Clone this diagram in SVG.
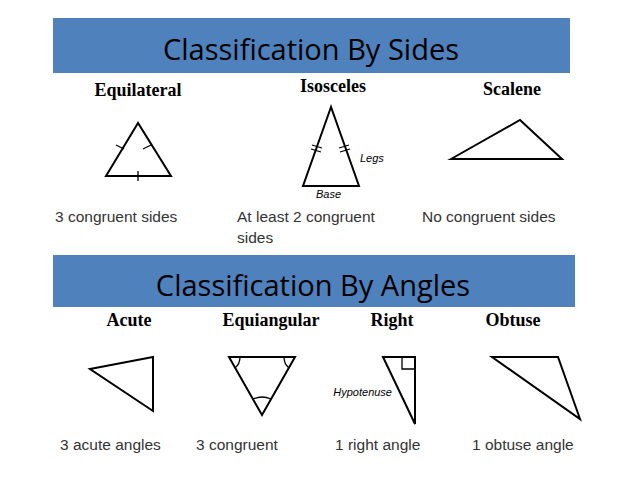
<svg xmlns="http://www.w3.org/2000/svg" width="638" height="479" viewBox="0 0 638 479">
<style>
.bar{fill:#4f81bd}
.title{font-family:"Open Sans","Liberation Sans",sans-serif;font-size:29px;fill:#000;text-anchor:middle}
.hd{font-family:"Liberation Serif",serif;font-weight:bold;font-size:18px;text-anchor:middle}
.cap{font-family:"Liberation Sans",sans-serif;font-size:15.5px;fill:#333}
.lab{font-family:"Liberation Sans",sans-serif;font-size:11px;font-style:italic}
.tri{fill:none;stroke:#000;stroke-width:2;stroke-linejoin:miter}
.thin{fill:none;stroke:#000;stroke-width:1.3}
</style>
<rect width="638" height="479" fill="#fff"/>
<g id="sides-header"><rect class="bar" x="53" y="18" width="517" height="55"/><text class="title" x="311" y="60">Classification By Sides</text></g>
<g id="equilateral">
<text class="hd" x="138" y="96">Equilateral</text>
<polygon class="tri" points="138,123 106,176 171,176"/>
<path class="thin" d="M116,145l8,4M151,145l-8,4M138,171v10"/>
<text class="cap" x="55" y="222">3 congruent sides</text>
</g>
<g id="isosceles">
<text class="hd" x="333" y="92">Isosceles</text>
<polygon class="tri" points="331,107 303,186 359,186"/>
<path class="thin" d="M312,145l10,3M311,149l10,3M339,148l10,-3M340,152l10,-3"/>
<text class="lab" x="360" y="162">Legs</text>
<text class="lab" x="316" y="198">Base</text>
<text class="cap" x="237" y="222">At least 2 congruent</text>
<text class="cap" x="237" y="243">sides</text>
</g>
<g id="scalene">
<text class="hd" x="512" y="95">Scalene</text>
<polygon class="tri" points="451,159 520,120 562,159"/>
<text class="cap" x="422" y="222">No congruent sides</text>
</g>
<g id="angles-header"><rect class="bar" x="53" y="255" width="522" height="52"/><text class="title" x="313" y="296">Classification By Angles</text></g>
<g id="acute">
<text class="hd" x="129" y="326">Acute</text>
<polygon class="tri" points="90,369 153,357 153,411"/>
<text class="cap" x="60" y="450">3 acute angles</text>
</g>
<g id="equiangular">
<text class="hd" x="271" y="326">Equiangular</text>
<polygon class="tri" points="229,357 295,357 262,415"/>
<path class="thin" d="M235,368q5,-4 5,-11M289,368q-5,-4 -5,-11M253,399q9,-4 18,0"/>
<text class="cap" x="196" y="450">3 congruent</text>
</g>
<g id="right">
<text class="hd" x="392" y="326">Right</text>
<polygon class="tri" points="383,357 415,357 415,424"/>
<path class="thin" d="M402,357v12h13"/>
<text class="lab" x="392" y="396" text-anchor="end">Hypotenuse</text>
<text class="cap" x="335" y="450">1 right angle</text>
</g>
<g id="obtuse">
<text class="hd" x="513" y="326">Obtuse</text>
<polygon class="tri" points="492,357 558,357 580,419"/>
<text class="cap" x="472" y="450">1 obtuse angle</text>
</g>
</svg>
